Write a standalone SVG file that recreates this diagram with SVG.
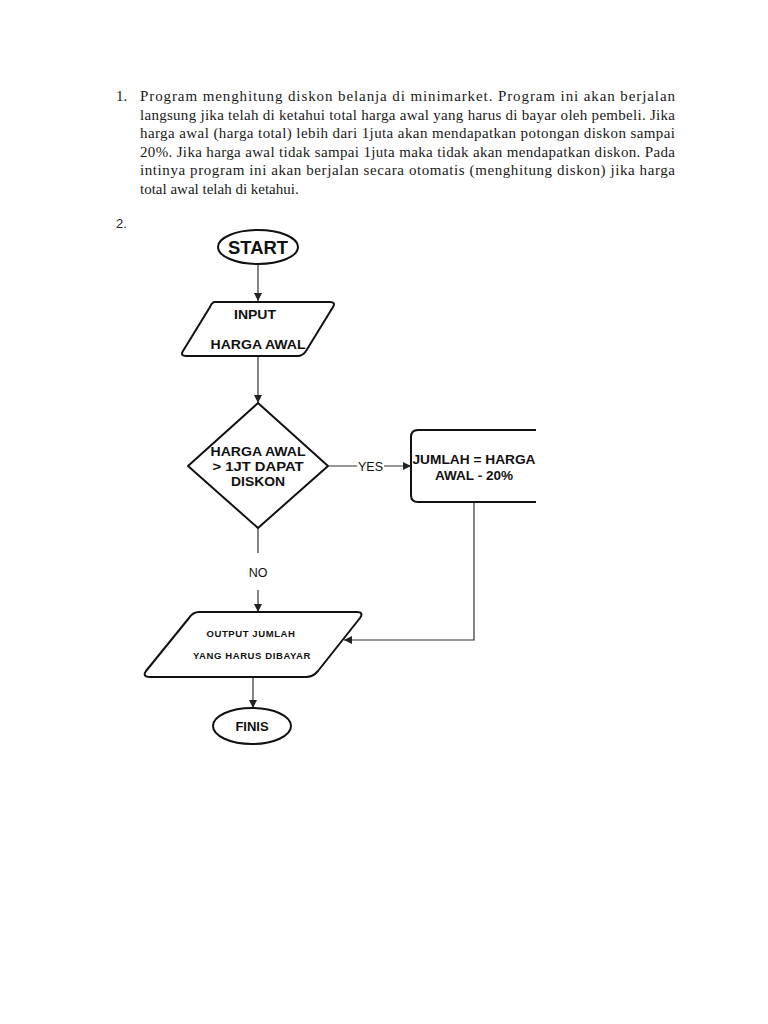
<svg xmlns="http://www.w3.org/2000/svg" width="768" height="1024" viewBox="0 0 768 1024">
<defs>
<marker id="ah" viewBox="0 0 10 10" refX="10" refY="5" markerWidth="8" markerHeight="8" markerUnits="userSpaceOnUse" orient="auto">
<path d="M0,0 L10,5 L0,10 z" fill="#222"/>
</marker>
<style>
.para{font-family:"Liberation Serif",serif;font-size:15px;fill:#1a1a1a}
.sh{fill:#fff;stroke:#111;stroke-width:2;stroke-linejoin:round}
.lbl{font-family:"Liberation Sans",Arial,sans-serif;font-weight:bold;fill:#111;text-anchor:middle}
.ln{fill:none;stroke:#333;stroke-width:1.2}
.ed{font-family:"Liberation Sans",Arial,sans-serif;font-size:12.5px;fill:#111;text-anchor:middle}
</style>
</defs>
<rect width="768" height="1024" fill="#fff"/>
<g id="paragraph">
<text class="para" x="116" y="101">1.</text>
<text class="para" x="140" y="101" textLength="535" lengthAdjust="spacing">Program menghitung diskon belanja di minimarket. Program ini akan berjalan</text>
<text class="para" x="140" y="119.5" textLength="535" lengthAdjust="spacing">langsung jika telah di ketahui total harga awal yang harus di bayar oleh pembeli. Jika</text>
<text class="para" x="140" y="138" textLength="535" lengthAdjust="spacing">harga awal (harga total) lebih dari 1juta akan mendapatkan potongan diskon sampai</text>
<text class="para" x="140" y="156.5" textLength="535" lengthAdjust="spacing">20%. Jika harga awal tidak sampai 1juta maka tidak akan mendapatkan diskon. Pada</text>
<text class="para" x="140" y="175" textLength="535" lengthAdjust="spacing">intinya program ini akan berjalan secara otomatis (menghitung diskon) jika harga</text>
<text class="para" x="140" y="193.5">total awal telah di ketahui.</text>
<text x="116" y="228" font-family="Liberation Sans,Arial,sans-serif" font-size="13" fill="#222">2.</text>
</g>
<g id="connectors">
<line class="ln" x1="258" y1="265" x2="258" y2="301" marker-end="url(#ah)"/>
<line class="ln" x1="258" y1="356" x2="258" y2="403" marker-end="url(#ah)"/>
<line class="ln" x1="329" y1="466" x2="411" y2="466" marker-end="url(#ah)"/>
<rect x="357" y="459" width="27" height="14" fill="#fff"/>
<text class="ed" x="370.5" y="470.5">YES</text>
<line class="ln" x1="258" y1="528" x2="258" y2="553"/>
<text class="ed" x="258" y="577">NO</text>
<line class="ln" x1="258" y1="590" x2="258" y2="612" marker-end="url(#ah)"/>
<polyline class="ln" points="474,502 474,640 344,640" marker-end="url(#ah)"/>
<line class="ln" x1="253" y1="677" x2="253" y2="708" marker-end="url(#ah)"/>
</g>
<g id="start">
<ellipse class="sh" cx="258" cy="247" rx="40" ry="17"/>
<text class="lbl" x="258" y="253.5" font-size="18" textLength="60" lengthAdjust="spacingAndGlyphs">START</text>
</g>
<g id="input">
<path class="sh" d="M215,302 H330 Q336,302 333,307 L306,351 Q303,356 297,356 H186 Q180,356 183,351 L210,307 Q212,302 215,302 z"/>
<text class="lbl" x="255" y="319" font-size="13" textLength="42" lengthAdjust="spacingAndGlyphs">INPUT</text>
<text class="lbl" x="258" y="349" font-size="13" textLength="95" lengthAdjust="spacingAndGlyphs">HARGA AWAL</text>
</g>
<g id="decision">
<path class="sh" d="M258,403 L328,466 L258,528 L188,466 z"/>
<text class="lbl" x="258" y="456" font-size="13" textLength="95" lengthAdjust="spacingAndGlyphs">HARGA AWAL</text>
<text class="lbl" x="258" y="471" font-size="13" textLength="91" lengthAdjust="spacingAndGlyphs">&gt; 1JT DAPAT</text>
<text class="lbl" x="258" y="486" font-size="13" textLength="54" lengthAdjust="spacingAndGlyphs">DISKON</text>
</g>
<g id="process">
<path class="sh" d="M536,430 H418 Q411,430 411,437 V495 Q411,502 418,502 H536"/>
<text class="lbl" x="474" y="464" font-size="13" textLength="123" lengthAdjust="spacingAndGlyphs">JUMLAH = HARGA</text>
<text class="lbl" x="474" y="480" font-size="13" textLength="78" lengthAdjust="spacingAndGlyphs">AWAL - 20%</text>
</g>
<g id="output">
<path class="sh" d="M199,612 H357 Q364,612 360,618 L318,671 Q313,677 306,677 H150 Q142,677 146,671 L189,618 Q193,612 199,612 z"/>
<text class="lbl" x="251" y="637" font-size="9.5" letter-spacing="0.6" style="font-weight:600">OUTPUT JUMLAH</text>
<text class="lbl" x="252" y="659" font-size="9.5" letter-spacing="0.6" style="font-weight:600">YANG HARUS DIBAYAR</text>
</g>
<g id="finis">
<ellipse class="sh" cx="252" cy="726" rx="39" ry="18"/>
<text class="lbl" x="252" y="731" font-size="13">FINIS</text>
</g>
</svg>
